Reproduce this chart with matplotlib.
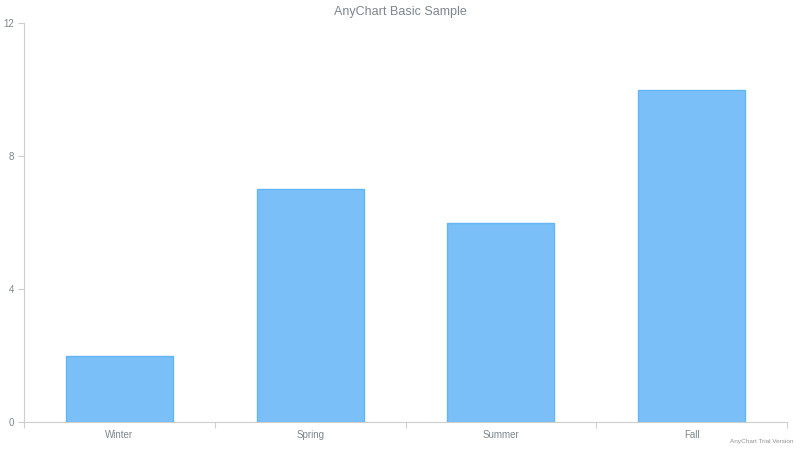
import matplotlib
matplotlib.use('Agg')
import matplotlib.pyplot as plt
import numpy as np

plt.rcParams['font.family'] = ['Liberation Sans', 'DejaVu Sans']

# 数据
seasons = ['Winter', 'Spring', 'Summer', 'Fall']
values = [2, 7, 6, 10]
y_ticks = [0, 4, 8, 12]

fig = plt.figure(figsize=(8, 4.5), dpi=100)
ax = fig.add_axes([24 / 800, 1 - 422 / 450, 763 / 800, 399 / 450])

x = np.arange(len(seasons))
ax.bar(x, values, 0.56, color='#7abff7', edgecolor='#64b5f6', linewidth=1)

ax.set_xlim(-0.5, len(seasons) - 0.5)
ax.set_ylim(0, 12)
ax.set_yticks(y_ticks)
ax.set_yticklabels([str(t) for t in y_ticks])

# x 轴刻度放在类别边界，标签在中心
ax.set_xticks(np.arange(len(seasons) + 1) - 0.5)
ax.set_xticklabels([])
ax.set_xticks(x, minor=True)
ax.set_xticklabels(seasons, minor=True)
ax.tick_params(axis='x', which='minor', length=0, pad=6)
ax.tick_params(axis='x', which='major', length=4, color='#cecece')
ax.tick_params(axis='y', length=4, color='#cecece', pad=3)
ax.tick_params(labelsize=7, labelcolor='#7c868e')
for lab in ax.get_xticklabels(minor=True):
    lab.set_fontsize(7)
    lab.set_color('#7c868e')

for s in ['top', 'right']:
    ax.spines[s].set_visible(False)
for s in ['left', 'bottom']:
    ax.spines[s].set_color('#cecece')

fig.text(0.5, 1 - 12 / 450, 'AnyChart Basic Sample', ha='center', va='center',
         fontsize=9, color='#7c868e')
fig.text(794 / 800, 1 - 442 / 450, 'AnyChart Trial Version', ha='right', va='center',
         fontsize=4.6, color='#929292')

fig.savefig('out.png', dpi=100)
